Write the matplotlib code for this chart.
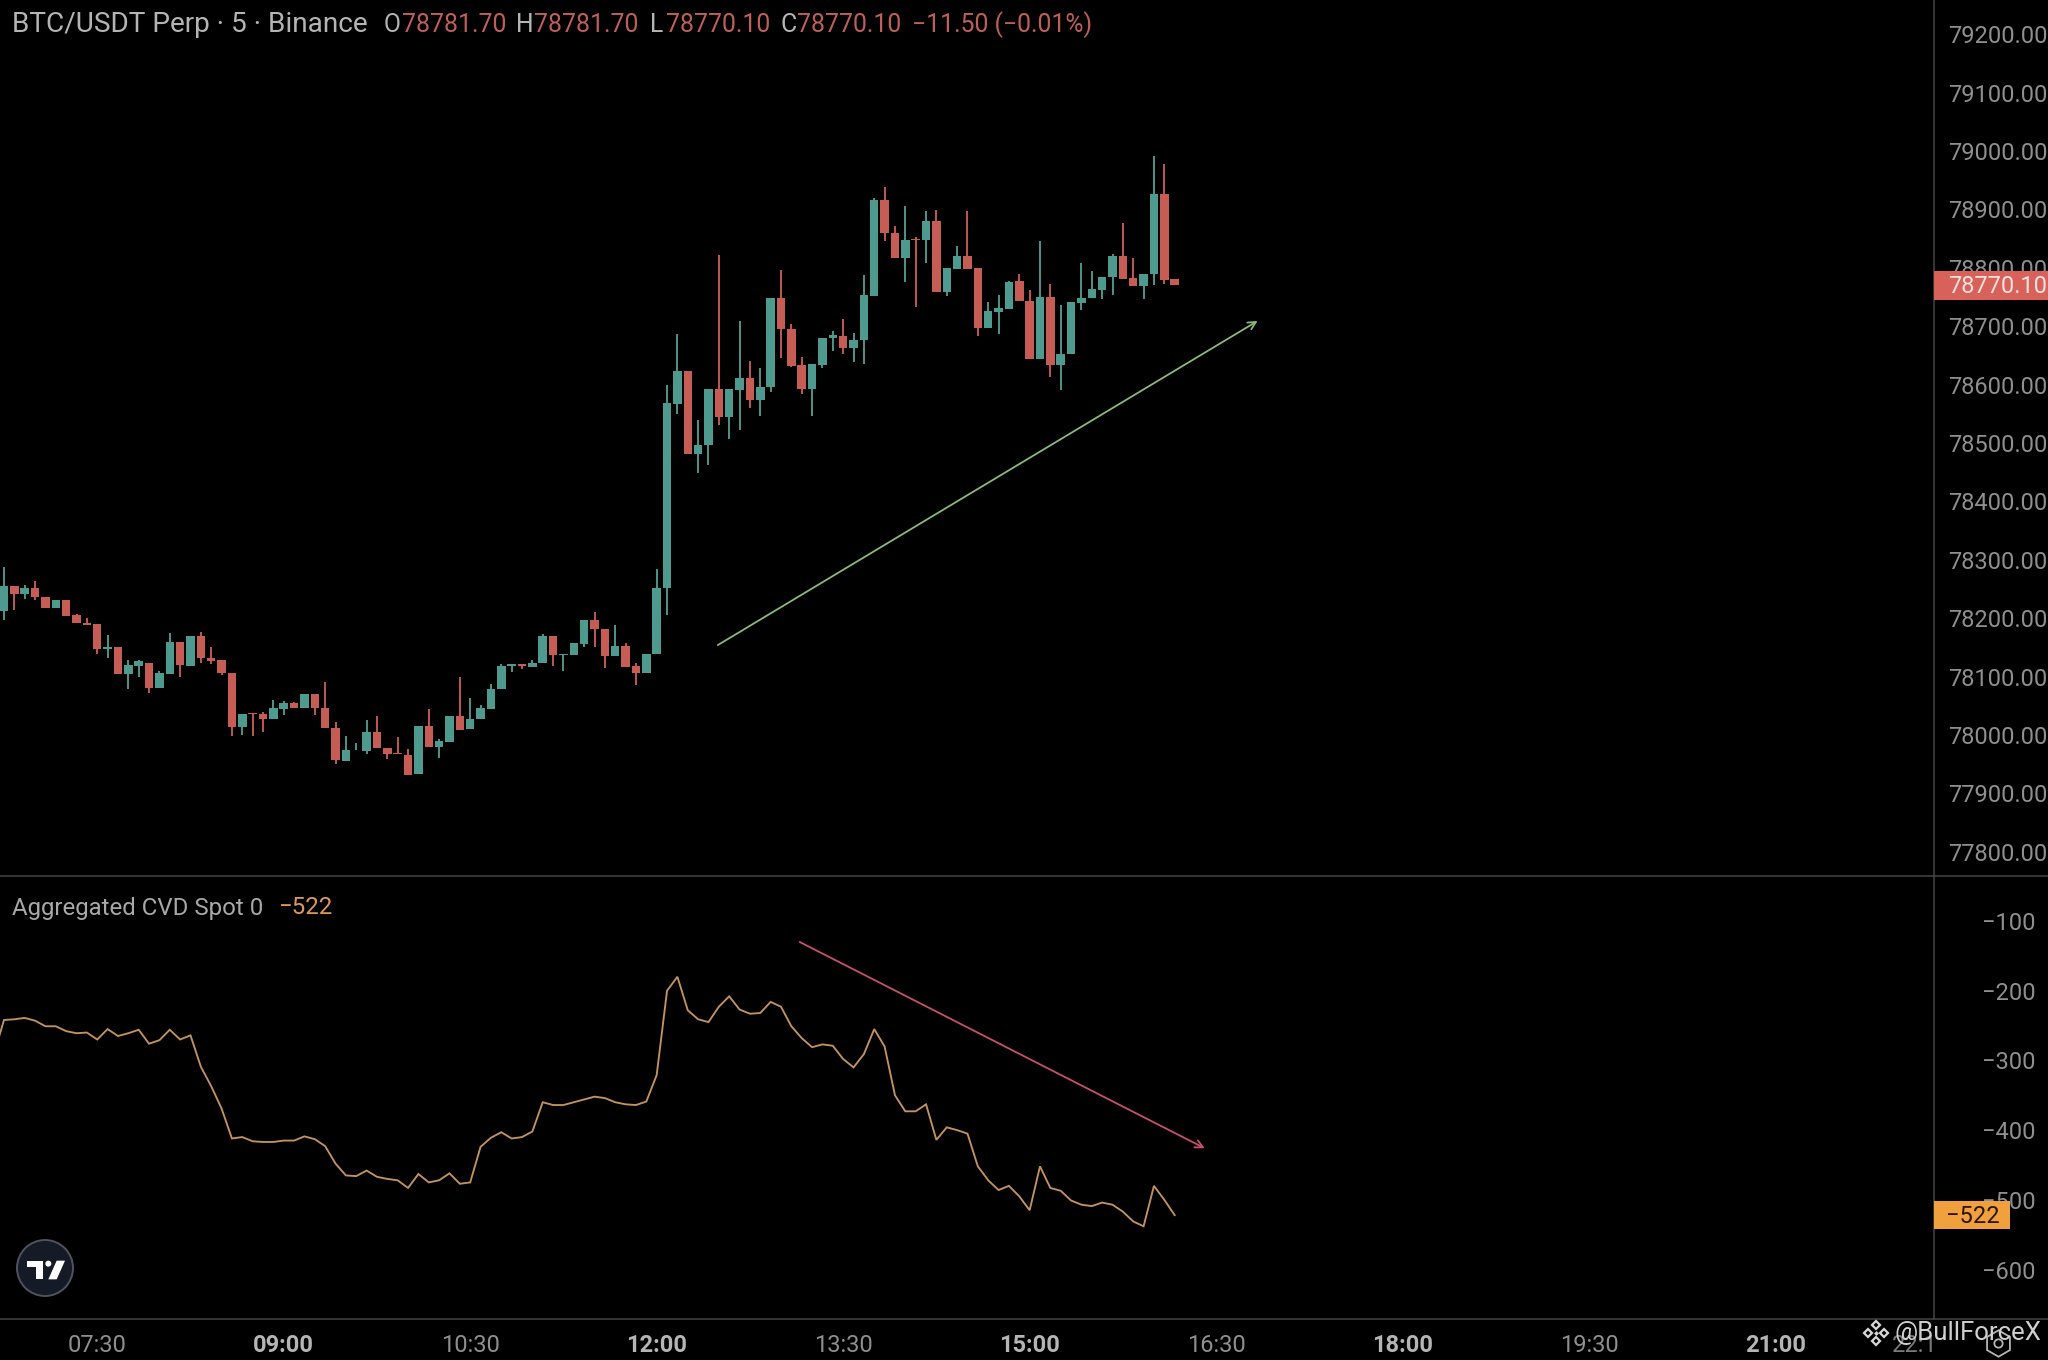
import matplotlib
matplotlib.use("Agg")
import matplotlib.pyplot as plt
from matplotlib.patches import Rectangle, Circle, Polygon
from matplotlib.transforms import blended_transform_factory
import numpy as np

plt.rcParams['font.family'] = ['Roboto', 'DejaVu Sans']

opens = [78213,78255,78241,78252,78237,78217,78231,78205,78192,78190,78147,78150,78105,78119,78124,78080,78105,78159,78119,78169,
78132,78128,78107,78013,78038,78036,78028,78045,78054,78047,78070,78046,78012,77956,77974,77973,78005,77978,77970,77965,
77933,78015,77980,77988,78033,78010,78027,78045,78078,78119,78121,78117,78123,78169,78137,78137,78156,78197,78182,78136,
78153,78118,78106,78139,78251,78567,78623,78482,78496,78592,78544,78591,78612,78574,78596,78748,78695,78633,78592,78633,
78679,78684,78663,78676,78752,78916,78860,78816,78849,78847,78880,78758,78798,78821,78799,78697,78725,78730,78777,78744,
78644,78750,78633,78653,78740,78748,78762,78785,78821,78782,78769,78789,78926,78781.7]
highs = [78288,78255,78257,78264,78237,78231,78231,78208,78200,78190,78171,78150,78128,78128,78124,78109,78174,78159,78169,78176,
78151,78128,78107,78036,78038,78039,78060,78058,78056,78070,78070,78090,78023,77998,77987,78025,78032,77978,77996,77976,
78016,78044,77994,78033,78099,78063,78051,78088,78121,78121,78121,78128,78173,78169,78139,78157,78197,78210,78182,78189,
78157,78124,78139,78285,78599,78687,78623,78539,78592,78822,78592,78709,78641,78628,78748,78797,78703,78647,78635,78680,
78692,78713,78689,78787,78920,78938,78872,78906,78852,78898,78899,78799,78837,78897,78799,78741,78753,78777,78789,78762,
78846,78773,78736,78741,78808,78794,78785,78824,78876,78816,78789,78992,78978,78781.7]
lows = [78197,78214,78233,78231,78217,78217,78204,78192,78189,78139,78132,78105,78078,78100,78072,78080,78105,78100,78119,78124,
78121,78103,77998,78000,77998,78005,78028,78035,78047,78047,78034,78012,77950,77956,77974,77968,77978,77959,77968,77931,
77933,77980,77961,77988,78008,78010,78027,78045,78078,78108,78113,78117,78123,78118,78110,78137,78151,78151,78114,78136,
78116,78086,78106,78139,78205,78550,78482,78449,78462,78531,78507,78522,78560,78546,78588,78646,78631,78584,78547,78629,
78658,78652,78639,78636,78752,78846,78817,78775,78733,78809,78758,78752,78798,78798,78684,78697,78687,78730,78743,78644,
78644,78613,78590,78653,78728,78748,78747,78753,78781,78769,78747,78770,78772,78770.1]
closes = [78255,78241,78252,78236,78217,78231,78204,78192,78189,78147,78150,78105,78120,78126,78080,78106,78159,78120,78169,78132,
78127,78106,78013,78036,78036,78028,78046,78054,78047,78070,78046,78012,77957,77974,77975,78005,77978,77967,77968,77932,
78016,77980,77989,78033,78009,78027,78046,78079,78119,78121,78119,78124,78169,78137,78139,78157,78197,78182,78136,78153,
78116,78106,78139,78252,78568,78623,78482,78497,78592,78544,78592,78612,78574,78596,78748,78695,78632,78592,78635,78680,
78685,78663,78676,78753,78916,78860,78817,78848,78847,78880,78758,78799,78821,78798,78697,78726,78731,78776,78743,78644,
78750,78633,78653,78741,78748,78763,78785,78821,78781,78769,78789,78926,78779,78770.1]

# cumulative volume delta, one value per bar; first value sits one bar before the left edge
cvd_start_bar = -1
cvd = [-292,-242,-241,-239,-243,-251,-251,-258,-261,-260,-270,-255,-265,-261,-256,-276,-271,-256,-270,-264,-309,
-337,-369,-412,-410,-416,-417,-417,-415,-415,-409,-413,-423,-448,-465,-466,-458,-467,-470,-472,-483,
-463,-475,-472,-462,-477,-475,-424,-411,-403,-412,-410,-402,-360,-364,-364,-360,-356,-352,-354,-360,
-363,-364,-359,-321,-200,-180,-228,-241,-245,-223,-208,-227,-233,-232,-216,-223,-251,-268,-281,-277,
-279,-298,-310,-291,-255,-280,-350,-373,-373,-363,-414,-396,-400,-405,-452,-472,-486,-480,-495,-515,
-452,-483,-487,-501,-507,-509,-504,-507,-517,-531,-538,-480,-500,-522]

price_ticks = [77800,77900,78000,78100,78200,78300,78400,78500,78600,78700,78800,78900,79000,79100,79200]
cvd_ticks = [-100,-200,-300,-400,-500,-600]
time_bars = [9,27,45,63,81,99,117,135,153,171]
time_labels = ['07:30','09:00','10:30','12:00','13:30','15:00','16:30','18:00','19:30','21:00']
bold_labels = {'09:00','12:00','15:00','18:00','21:00'}

last_price = 78770.10
last_cvd = -522
trend_up = ((68.9, 78154), (121.0, 78709))
trend_down = ((76.8, -130), (115.9, -426))

W, H = 2048, 1360
AX_R, SEP, BOT = 1934, 876, 1319
BG = '#000000'; GRID = '#454545'; TXT = '#8f8f8f'
UP = '#4f9a8e'; DN = '#c65d55'; LINE = '#c2925f'
FS = 17

fig = plt.figure(figsize=(W/100, H/100), dpi=100, facecolor=BG)

def axes_px(l, t, r, b):
    return fig.add_axes([l/W, 1-b/H, (r-l)/W, (b-t)/H], facecolor=BG)

ax1 = axes_px(0, 0, AX_R, SEP)
ax2 = axes_px(0, SEP, AX_R, BOT)
bar_px = 10.36
xlim = (-4/bar_px, (AX_R-4)/bar_px)

for ax in (ax1, ax2):
    ax.set_xlim(*xlim)
    ax.yaxis.tick_right()
    ax.tick_params(axis='y', length=0, pad=10, labelcolor=TXT, labelsize=FS)
    ax.tick_params(axis='x', length=0)
    for s in ax.spines.values():
        s.set_visible(False)
    ax.spines['right'].set_visible(True)
    ax.spines['right'].set_color(GRID)
    ax.spines['right'].set_linewidth(1.1)

ax1.set_ylim(77758.6, 79258.6)
ax2.set_ylim(-671, -35.4)

ax1.set_yticks(price_ticks)
ax1.set_yticklabels([f'{v}.00' for v in price_ticks])
ax2.set_yticks(cvd_ticks)
ax2.set_yticklabels([f'\u2212{abs(v)}' for v in cvd_ticks], ha='right')
ax2.tick_params(axis='y', pad=73)
ax1.set_xticks([])

# candles
x = np.arange(len(opens))
o, h, l, c = map(np.array, (opens, highs, lows, closes))
cols = [UP if ci >= oi else DN for oi, ci in zip(o, c)]
ax1.vlines(x, l, h, colors=cols, linewidth=1.35, zorder=2)
ax1.bar(x, np.abs(c-o), bottom=np.minimum(o, c), width=0.82, color=cols, linewidth=0, zorder=3)

# CVD
ax2.plot(np.arange(len(cvd))+cvd_start_bar, cvd, color=LINE, lw=1.35, solid_joinstyle='miter', zorder=3)

# trend arrows
ax1.annotate('', xy=trend_up[1], xytext=trend_up[0],
             arrowprops=dict(arrowstyle='->,head_length=0.55,head_width=0.28', color='#8cb878', lw=1.3, shrinkA=0, shrinkB=0))
ax2.annotate('', xy=trend_down[1], xytext=trend_down[0],
             arrowprops=dict(arrowstyle='->,head_length=0.55,head_width=0.28', color='#c9506a', lw=1.3, shrinkA=0, shrinkB=0))

# value tags on the scales
tr1 = blended_transform_factory(ax1.transAxes, ax1.transData)
ax1.add_patch(Rectangle((1, last_price-26), 114/AX_R, 50, transform=tr1, clip_on=False, color='#d8615a', lw=0, zorder=6))
ax1.text(1+14/AX_R, last_price-2, f'{last_price:.2f}', transform=tr1, color='#f2e2e0', fontsize=FS, va='center', ha='left', zorder=7)
tr2 = blended_transform_factory(ax2.transAxes, ax2.transData)
ax2.add_patch(Rectangle((1, last_cvd-20.5), 76/AX_R, 41, transform=tr2, clip_on=False, color='#f0a03c', lw=0, zorder=6))
ax2.text(1+66/AX_R, last_cvd-1.5, f'\u2212{abs(last_cvd)}', transform=tr2, color='#2a1500', fontsize=FS, va='center', ha='right', zorder=7)

# overlay in pixel space for text, separators, logos
ov = fig.add_axes([0, 0, 1, 1], facecolor='none', zorder=10)
ov.set_xlim(0, W); ov.set_ylim(H, 0); ov.axis('off')
ov.plot([0, W], [SEP, SEP], color=GRID, lw=1.1)
ov.plot([0, W], [BOT, BOT], color=GRID, lw=1.1)

for b, lab in zip(time_bars, time_labels):
    px = (b - xlim[0]) / (xlim[1]-xlim[0]) * AX_R
    ov.text(px, 1345, lab, color='#b5b5b5' if lab in bold_labels else TXT, fontsize=FS,
            fontweight='bold' if lab in bold_labels else 'normal', ha='center', va='center')
ov.text(1892, 1346, '22:1', color='#7a7a7a', fontsize=FS, ha='left', va='center')

ov.text(12, 25, 'BTC/USDT Perp \u00b7 5 \u00b7 Binance', color='#b4b4b4', fontsize=20.2, ha='left', va='center')
red = '#bf5f5a'
for px, s, col in [(384, 'O', '#b4b4b4'), (402, '78781.70', red), (516, 'H', '#b4b4b4'), (534, '78781.70', red),
                   (650, 'L', '#b4b4b4'), (666, '78770.10', red), (780, 'C', '#b4b4b4'), (797, '78770.10', red),
                   (912, '\u221211.50 (\u22120.01%)', red)]:
    ov.text(px, 25, s, color=col, fontsize=17.8, ha='left', va='center')

ov.text(12, 908, 'Aggregated CVD Spot 0', color='#a8a8a8', fontsize=17.3, ha='left', va='center')
ov.text(278, 908, '\u2212522', color='#e0985a', fontsize=17.3, ha='left', va='center')

# TradingView badge
ov.add_patch(Circle((45, 1268), 28, fc='#141a26', ec='#50535c', lw=1.4))
def z(pts):
    return [(a/3, 1220+b/3) for a, b in pts]
ov.add_patch(Polygon(z([(82,122),(130,122),(130,178),(107,178),(107,140),(82,140)]), fc='white', lw=0))
ov.add_patch(Polygon(z([(170,122),(195,122),(170,178),(145,178)]), fc='white', lw=0))
ov.add_patch(Circle((145/3, 1220+131/3), 3, fc='white', lw=0))

# watermark
ov.text(1894, 1333, '@BullForceX', color='#cfcfcf', fontsize=18.5, ha='left', va='center')
for dx, dy in [(0, -8), (0, 8), (-8, 0), (8, 0)]:
    ov.plot(1876+dx, 1333+dy, marker='D', ms=4.5, mfc='none', mec='#d8d8d8', mew=1.6)
ov.plot(1876, 1333, marker='D', ms=2.5, color='#d8d8d8', mew=0)
ov.plot(1998, 1343, marker='h', ms=19, mfc='none', mec='#b5b5b5', mew=1.3)
ov.plot(1998, 1343, marker='o', ms=6, mfc='none', mec='#b5b5b5', mew=1.3)

fig.savefig('out.png', dpi=100, facecolor=BG)
